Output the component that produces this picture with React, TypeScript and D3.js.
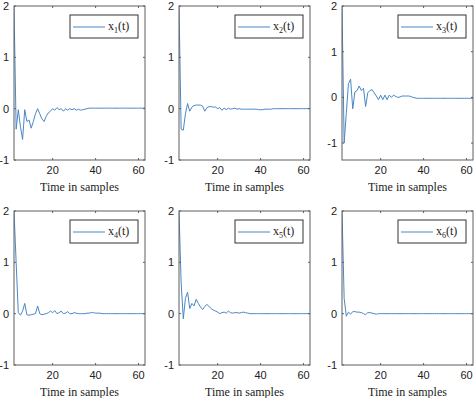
import * as d3 from "d3";

// state responses, one value per sample starting at t = 2
const x1 = [
  2, -0.4, -0.02, -0.35, -0.6, -0.02, -0.25, -0.22, -0.38, -0.25,
  -0.1, 0, -0.1, -0.2, -0.25, -0.15, -0.08, -0.05, 0, -0.03,
  0.02, -0.02, 0, -0.05, 0, -0.03, 0, -0.02, 0, -0.03,
  -0.01, -0.03, -0.02, -0.01, 0, 0.01, 0.01, 0.01, 0.01, 0.01,
  0.01, 0.01, 0.01, 0.01, 0.01, 0.01, 0.01, 0.01, 0.01, 0.01,
  0.01, 0.01, 0.01, 0.01, 0.01, 0.01, 0.01, 0.01, 0.01, 0.01,
  0.01, 0.01,
];
const x2 = [
  2, -0.4, -0.42, -0.1, 0.1, -0.05, 0.03, 0.06, 0.07, 0.07,
  0.07, 0.05, -0.05, 0.02, 0.04, 0.04, 0.03, 0.03, 0, 0.02,
  -0.03, 0.01, -0.02, 0.01, -0.01, 0, 0.01, -0.01, 0, -0.01,
  -0.01, -0.01, -0.01, -0.01, -0.01, -0.01, -0.01, -0.02, -0.02, -0.02,
  -0.01, -0.01, -0.01, -0.01, 0, 0, 0, 0, 0, 0,
  0, 0, 0, 0, 0, 0, 0, 0, 0, 0,
  0, 0,
];
const x3 = [
  2, -1.0, -0.35, 0.3, 0.4, -0.25, 0.12, 0.15, 0.25, 0.15,
  0.2, -0.2, 0.1, 0.15, 0.17, 0.1, 0.03, -0.05, 0.05, -0.05,
  0.05, -0.05, 0.05, 0, 0.05, 0.02, 0, 0.01, 0.03, 0.03,
  0.03, 0.03, 0.02, 0, -0.01, -0.02, -0.02, -0.02, -0.02, -0.02,
  -0.02, -0.02, -0.02, -0.02, -0.02, -0.02, -0.02, -0.02, -0.02, -0.02,
  -0.02, -0.02, -0.02, -0.02, -0.02, -0.02, -0.02, -0.02, -0.02, -0.02,
  -0.02, -0.02,
];
const x4 = [
  2, 1.0, 0.02, -0.03, 0.05, 0.2, -0.02, -0.03, -0.02, -0.01,
  0, 0.15, 0, -0.02, -0.01, 0, 0.02, 0.05, 0.02, 0.06,
  0, 0.02, 0.05, 0, 0.01, 0.04, 0, 0, 0.02, 0.01,
  0, 0, 0, 0, 0.01, 0.01, 0.02, 0.02, 0.01, 0.01,
  0.01, 0, 0, 0, 0, 0, 0, 0, 0, 0,
  0, 0, 0, 0, 0, 0, 0, 0, 0, 0,
  0, 0,
];
const x5 = [
  2, 0.6, -0.1, 0.3, 0.42, 0.1, 0.2, 0.15, 0.28, 0.2,
  0.13, 0.08, 0.14, 0.18, 0.14, 0.1, 0.07, 0.05, 0.03, 0,
  0.02, 0.03, 0.01, 0.05, 0.02, 0.01, 0.02, 0.02, 0.01, 0.02,
  0.03, 0.02, 0.01, 0, 0, 0, 0, 0, 0, 0,
  0, 0, 0, 0, 0, 0, 0, 0, 0, 0,
  0, 0, 0, 0, 0, 0, 0, 0, 0, 0,
  0, 0,
];
const x6 = [
  2, 0.3, -0.05, 0.03, -0.01, 0.04, 0.04, 0.03, 0.03, 0.02,
  0, -0.02, 0.02, 0.02, 0.01, 0, -0.01, 0, 0, 0,
  0, 0, 0, 0, 0, 0, 0, 0, 0, 0,
  0, 0, 0, 0, 0, 0, 0, 0, 0, 0,
  0, 0, 0, 0, 0, 0, 0, 0, 0, 0,
  0, 0, 0, 0, 0, 0, 0, 0, 0, 0,
  0, 0,
];

const SERIES = [x1, x2, x3, x4, x5, x6];
const SUBS = ["1", "2", "3", "4", "5", "6"];
const X_TICKS = [20, 40, 60];
const Y_TICKS = [-1, 0, 1, 2];
const X_DOMAIN = [2, 63];
const Y_DOMAINS = [
  [-1, 2],
  [-1, 2],
  [-1.37, 2],
  [-1, 2],
  [-1, 2],
  [-1, 2],
];
const T0 = 2;

const LINE = "#4a87c6";
const FRAME = "#5e5e5e";
const SANS = "Liberation Sans, Arial, sans-serif";
const SERIF = "Liberation Serif, Times New Roman, serif";

const COLS = [14, 179, 342];
const ROWS = [6, 211];
const PW = 131;
const PH = 154;

function Panel({ data, sub, left, top, yDomain }: any) {
  const x = d3.scaleLinear().domain(X_DOMAIN).range([left, left + PW]);
  const y = d3.scaleLinear().domain(yDomain).range([top + PH, top]);
  const line = d3
    .line<number>()
    .x((_, i) => x(T0 + i))
    .y((d) => y(d));
  const bottom = top + PH;
  const right = left + PW;
  const lx = left + 56;
  const ly = top + 9;

  return (
    <g>
      <defs>
        <clipPath id={`clip${sub}`}>
          <rect x={left} y={top} width={PW} height={PH} />
        </clipPath>
      </defs>
      <rect x={left} y={top} width={PW} height={PH} fill="#fff" />
      <path
        d={line(data) ?? ""}
        fill="none"
        stroke={LINE}
        strokeWidth={1}
        clipPath={`url(#clip${sub})`}
      />
      <rect
        x={left}
        y={top}
        width={PW}
        height={PH}
        fill="none"
        stroke={FRAME}
        strokeWidth={1}
      />
      {X_TICKS.map((t) => (
        <g key={`x${t}`}>
          <line x1={x(t)} x2={x(t)} y1={bottom} y2={bottom - 2} stroke={FRAME} />
          <line x1={x(t)} x2={x(t)} y1={top} y2={top + 2} stroke={FRAME} />
          <text
            x={x(t)}
            y={bottom + 13.5}
            textAnchor="middle"
            fontFamily={SANS}
            fontSize={11}
            fill="#222"
          >
            {t}
          </text>
        </g>
      ))}
      {Y_TICKS.map((t) => (
        <g key={`y${t}`}>
          <line x1={left} x2={left + 2} y1={y(t)} y2={y(t)} stroke={FRAME} />
          <line x1={right} x2={right - 2} y1={y(t)} y2={y(t)} stroke={FRAME} />
          <text
            x={left - 5}
            y={y(t) + 4}
            textAnchor="end"
            fontFamily={SANS}
            fontSize={11}
            fill="#222"
          >
            {t}
          </text>
        </g>
      ))}
      <text
        x={left + PW / 2}
        y={bottom + 31}
        textAnchor="middle"
        fontFamily={SERIF}
        fontSize={12}
        fill="#222"
      >
        Time in samples
      </text>
      <rect
        x={lx}
        y={ly}
        width={68}
        height={23}
        fill="#fff"
        stroke="#333"
        strokeWidth={1}
      />
      <line x1={lx + 3} x2={lx + 35} y1={ly + 12} y2={ly + 12} stroke={LINE} />
      <text x={lx + 38} y={ly + 15} fontFamily={SERIF} fontSize={12} fill="#222">
        x
        <tspan fontSize={8} dy={3}>
          {sub}
        </tspan>
        <tspan dy={-3}>(t)</tspan>
      </text>
    </g>
  );
}

export default function App() {
  return (
    <svg
      width={474}
      height={398}
      style={{ position: "absolute", left: 0, top: 0, background: "#fff" }}
    >
      <rect width={474} height={398} fill="#fff" />
      {SERIES.map((s, i) => (
        <Panel
          key={i}
          data={s}
          sub={SUBS[i]}
          left={COLS[i % 3]}
          top={ROWS[Math.floor(i / 3)]}
          yDomain={Y_DOMAINS[i]}
        />
      ))}
    </svg>
  );
}
